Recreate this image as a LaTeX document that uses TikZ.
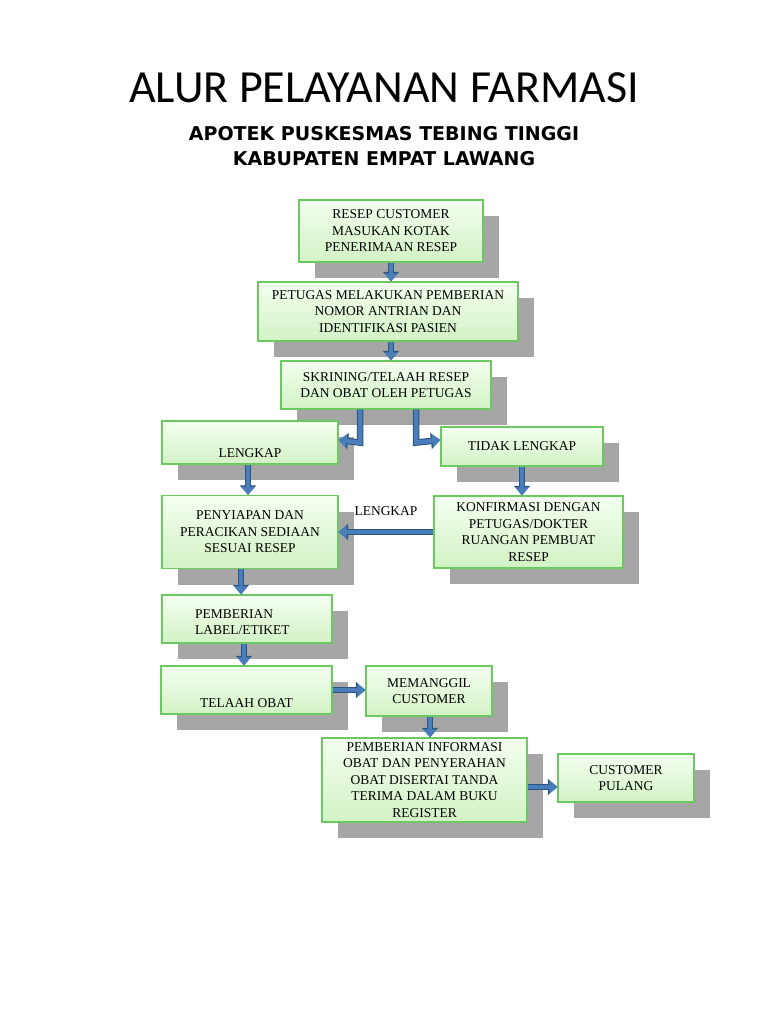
\documentclass[tikz,border=0pt]{standalone}
\usepackage{fontspec}
\setmainfont{Liberation Serif}
\newfontfamily\titlefont{Carlito}
\newfontfamily\subfont{DejaVu Sans}
\usetikzlibrary{shadows,arrows.meta}
\definecolor{bdr}{HTML}{6CC860}
\definecolor{gtop}{HTML}{F4FFF0}
\definecolor{gbot}{HTML}{D2F2C4}
\definecolor{arr}{HTML}{4A7EBB}
\definecolor{arrd}{HTML}{2C5580}
\tikzset{
 box/.style={draw=bdr, line width=1.2pt, top color=gtop, bottom color=gbot, inner sep=0pt,
   align=center, font=\fontsize{13.5}{16.5}\selectfont,
   drop shadow={shadow xshift=16pt, shadow yshift=-16pt, fill=black!35, opacity=1}},
 txt/.style={font=\fontsize{13.5}{16.5}\selectfont, align=center, inner sep=0pt},
 flow/.style={line width=4.5pt, line join=miter, draw=arr, -{Triangle[width=13pt,length=8pt]},
   preaction={draw=arrd, line join=miter, line width=6.5pt, -{Triangle[width=15.5pt,length=9.5pt]}}}
}
\begin{document}
\begin{tikzpicture}[x=1pt,y=-1pt]
\useasboundingbox (0,0) rectangle (768,1024);
\node[font=\titlefont\fontsize{46}{50}\selectfont] (t) at (384,88) {ALUR PELAYANAN FARMASI};
\node[font=\subfont\bfseries\fontsize{19}{25}\selectfont, align=center] (st) at (384,146) {APOTEK PUSKESMAS TEBING TINGGI\\KABUPATEN EMPAT LAWANG};
% boxes
\node[box, minimum width=184, minimum height=62] (b1) at (391,231) {RESEP CUSTOMER\\MASUKAN KOTAK\\PENERIMAAN RESEP};
\node[box, minimum width=260, minimum height=59] (b2) at (388,311.5) {PETUGAS MELAKUKAN PEMBERIAN\\NOMOR ANTRIAN DAN\\IDENTIFIKASI PASIEN};
\node[box, minimum width=210, minimum height=48] (b3) at (386,385) {SKRINING/TELAAH RESEP\\DAN OBAT OLEH PETUGAS};
\node[box, minimum width=176, minimum height=43] (b4) at (250,442.5) {};
\node[txt] at (250,453) {LENGKAP};
\node[box, minimum width=162, minimum height=39] (b5) at (522,446.5) {TIDAK LENGKAP};
\node[box, minimum width=176, minimum height=73] (b6) at (250,532) {PENYIAPAN DAN\\PERACIKAN SEDIAAN\\SESUAI RESEP};
\node[box, minimum width=189, minimum height=72] (b7) at (528.5,532) {KONFIRMASI DENGAN\\PETUGAS/DOKTER\\RUANGAN PEMBUAT\\RESEP};
\node[box, minimum width=170, minimum height=48] (b8) at (247,619) {};
\node[txt, align=left, anchor=west] at (195,622) {PEMBERIAN\\LABEL/ETIKET};
\node[box, minimum width=171, minimum height=48] (b9) at (246.5,690) {};
\node[txt] at (246.5,703) {TELAAH OBAT};
\node[box, minimum width=126, minimum height=50] (b10) at (429,691) {MEMANGGIL\\CUSTOMER};
\node[box, minimum width=205, minimum height=84] (b11) at (424.5,780) {PEMBERIAN INFORMASI\\OBAT DAN PENYERAHAN\\OBAT DISERTAI TANDA\\TERIMA DALAM BUKU\\REGISTER};
\node[box, minimum width=136, minimum height=48] (b12) at (626,778) {CUSTOMER\\PULANG};
% arrows
\draw[flow] (b1.south) -- (b1.south|-b2.north);
\draw[flow] ([xshift=3pt]b2.south) -- ([xshift=3pt]b2.south|-b3.north);
\draw[flow] ([xshift=-26pt]b3.south) -- ++(0,33) -- (b4.east|-{(0,440)});
\draw[flow] ([xshift=30pt]b3.south) -- ++(0,33) -- (b5.west|-{(0,440)});
\draw[flow] ([xshift=-2pt]b4.south) -- ([xshift=-2pt]b4.south|-b6.north);
\draw[flow] (b5.south) -- (b5.south|-b7.north);
\draw[flow] (b7.west) -- (b7.west-|b6.east) node[txt, midway, above=14pt] (lk2) {LENGKAP};
\draw[flow] ([xshift=-9pt]b6.south) -- ([xshift=-9pt]b6.south|-b8.north);
\draw[flow] ([xshift=-3pt]b8.south) -- ([xshift=-3pt]b8.south|-b9.north);
\draw[flow] (b9.east) -- (b10.west|-b9.east);
\draw[flow] ([xshift=1pt]b10.south) -- ([xshift=1pt]b10.south|-b11.north);
\draw[flow] ([yshift=-7pt]b11.east) -- ([yshift=-7pt]b11.east-|b12.west);
\end{tikzpicture}
\end{document}
